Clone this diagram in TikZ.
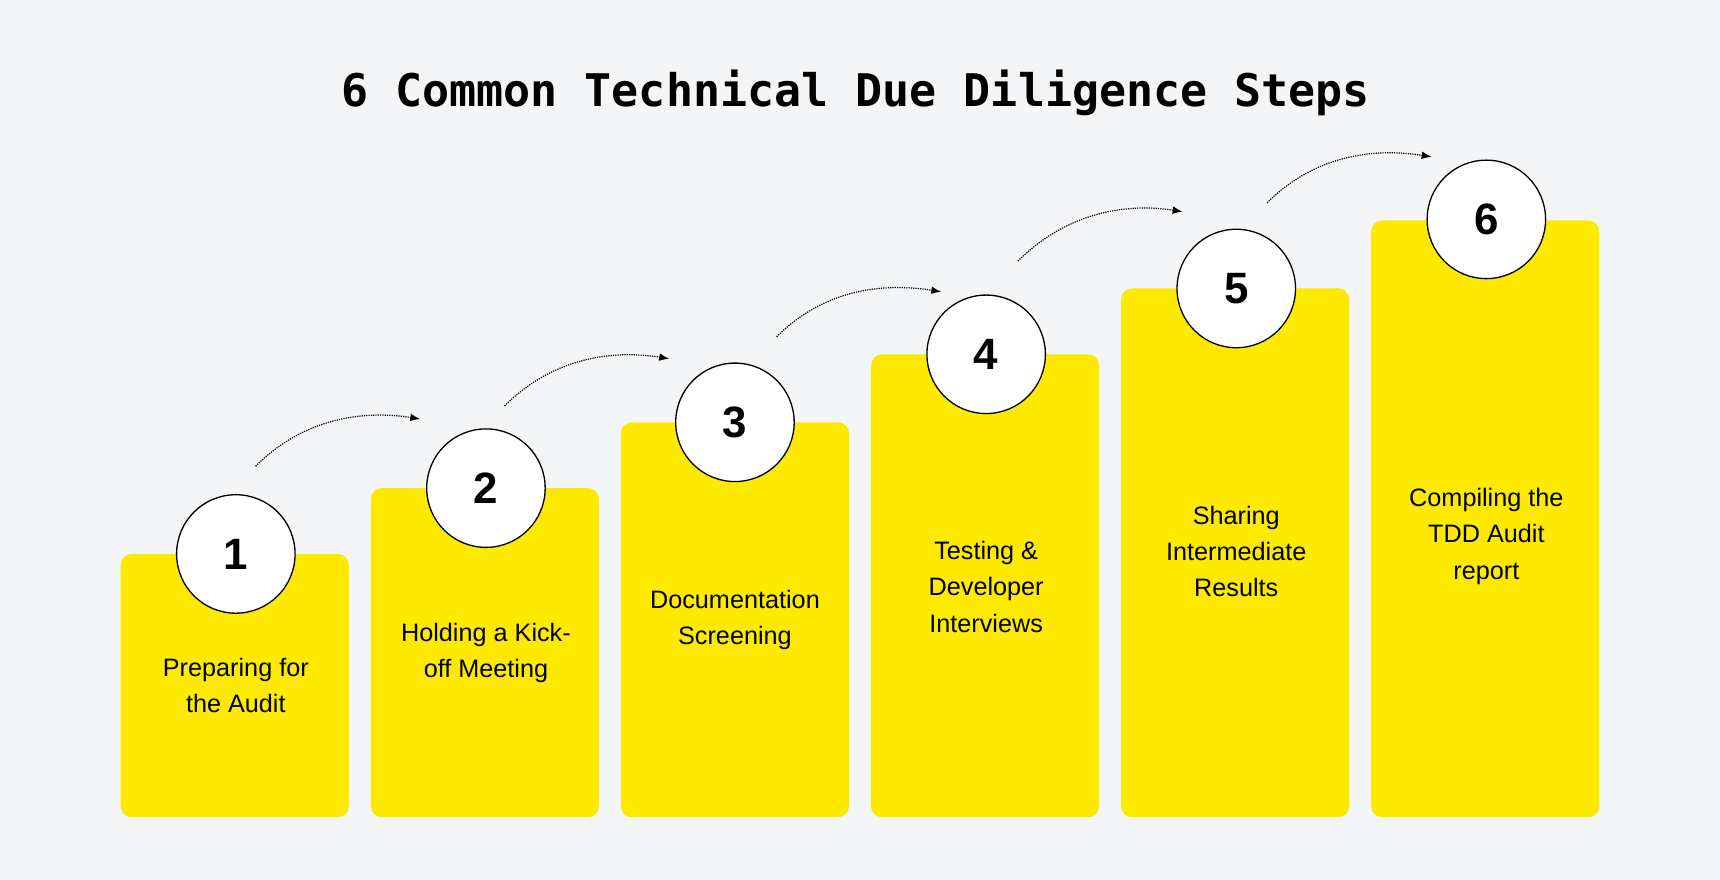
\documentclass[tikz,border=0pt]{standalone}
\usepackage{fontspec}
\setmainfont{Liberation Sans}
\newfontfamily\titlefont{DejaVu Sans Mono}
\usetikzlibrary{arrows.meta,calc}
\definecolor{bg}{HTML}{F4F5F7}
\definecolor{bary}{HTML}{FDEA00}
\begin{document}
\begin{tikzpicture}[x=1pt,y=-1pt,
  bar/.style={fill=bary,draw=none,rounded corners=10pt},
  num/.style={circle,draw=black,line width=1.2pt,fill=white,minimum size=108pt,inner sep=0pt,font=\fontsize{40}{40}\selectfont\bfseries},
  lbl/.style={align=center,font=\fontsize{23}{33}\selectfont},
  arc/.style={densely dotted,line width=1.1pt,-{Latex[length=9pt,width=7pt]}}]
\fill[bg] (0,0) rectangle (1568,802);
\useasboundingbox (0,0) rectangle (1568,802);
\node[font=\titlefont\bfseries\fontsize{41}{41}\selectfont] (title) at (780,85) {6 Common Technical Due Diligence Steps};
\foreach \i/\x/\t in {1/110/505,2/338/445,3/566/385,4/794/323,5/1022/263,6/1250/201}{
  \fill[bar] (\x,\t) rectangle ++(208,745-\t);
}
\node[num] (c1) at (215,505) {1};
\node[num] (c2) at (443,445) {2};
\node[num] (c3) at (670,385) {3};
\node[num] (c4) at (899,323) {4};
\node[num] (c5) at (1127,263) {5};
\node[num] (c6) at (1355,200) {6};
\node[lbl] (t1) at (215,625) {Preparing for\\the Audit};
\node[lbl] (t2) at (443,595) {Holding a Kick-\\off Meeting};
\node[lbl] (t3) at (670,565) {Documentation\\Screening};
\node[lbl] (t4) at (899,535) {Testing \&\\Developer\\Interviews};
\node[lbl] (t5) at (1127,503) {Sharing\\Intermediate\\Results};
\node[lbl] (t6) at (1355,489) {Compiling the\\TDD Audit\\report};
\foreach \i/\ax/\ay/\bx/\by in {1/233/425/383/382,2/460/370/610/327,3/708/307/858/266,4/928/238/1078/193,5/1155/185/1305/143}{
  \coordinate (s\i) at (\ax,\ay);
  \coordinate (e\i) at (\bx,\by);
  \draw[arc] (s\i) .. controls ($(s\i)+(45,-45)$) and ($(e\i)+(-50,-8)$) .. (e\i);
}
\end{tikzpicture}
\end{document}
